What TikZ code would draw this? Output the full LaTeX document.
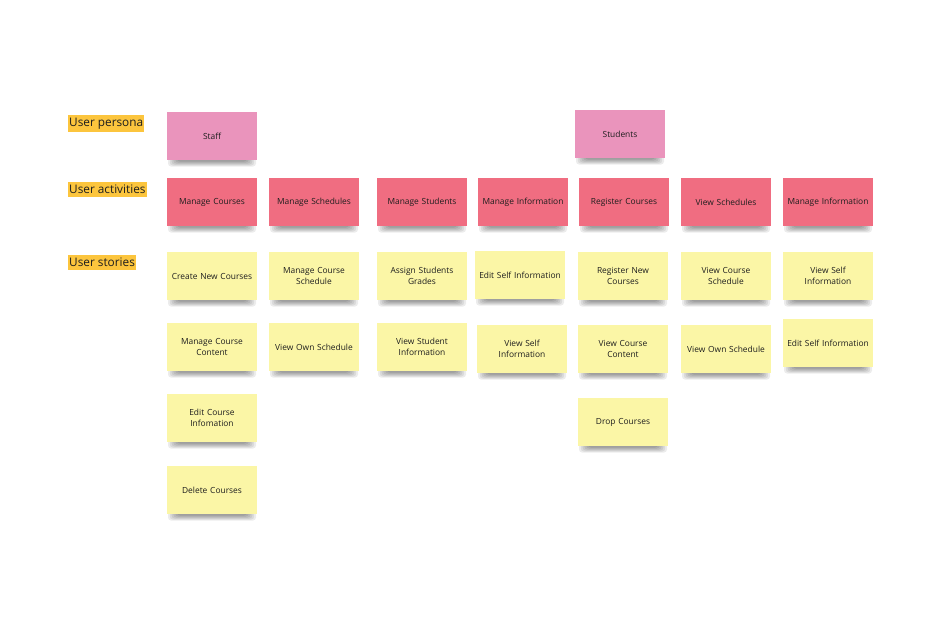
\documentclass[tikz,border=0pt]{standalone}
\usepackage{fontspec}
\setmainfont{Open Sans}
\definecolor{persona}{HTML}{EA94BC}
\definecolor{activity}{HTML}{F06D81}
\definecolor{story}{HTML}{FBF6A6}
\definecolor{tag}{HTML}{FCC53D}
\definecolor{ink}{HTML}{1E1E1E}
\tikzset{
  note/.style={minimum width=90pt, minimum height=48pt, inner sep=0pt, align=center,
    text width=86pt, font=\fontsize{8.4}{11.2}\selectfont, text=ink},
  shadowlayer/.style={fill=black, opacity=0.075, rounded corners=3pt},
  rowlabel/.style={fill=tag, inner xsep=1pt, inner ysep=3pt, anchor=north west,
    font=\fontsize{11.8}{13}\selectfont, text=ink}
}
\newcommand\sticky[5]{%
  \foreach \i in {0,...,5}{\fill[shadowlayer] (#2-44+1.8*\i,#3+8) rectangle (#2+44-1.8*\i,#3+30.5-\i);}
  \node[note, fill=#4] (#1) at (#2,#3) {#5};
}
\begin{document}
\begin{tikzpicture}[x=1pt,y=-1pt]
\useasboundingbox (0,0) rectangle (950,634);
\fill[white] (0,0) rectangle (950,634);
% row labels
\node[rowlabel] (lp) at (68,115) {User persona};
\node[rowlabel] (la) at (68,182) {User activities};
\node[rowlabel] (ls) at (68,255) {User stories};
% personas
\sticky{staff}{212}{136}{persona}{Staff}
\sticky{students}{620}{134}{persona}{Students}
% activities
\sticky{a1}{212}{202}{activity}{Manage Courses}
\sticky{a2}{314}{202}{activity}{Manage Schedules}
\sticky{a3}{422}{202}{activity}{Manage Students}
\sticky{a4}{523}{202}{activity}{Manage Information}
\sticky{a5}{624}{202}{activity}{Register Courses}
\sticky{a6}{726}{202}{activity}{View Schedules}
\sticky{a7}{828}{202}{activity}{Manage Information}
% stories row 1
\sticky{s11}{212}{276}{story}{Create New Courses}
\sticky{s21}{314}{276}{story}{Manage Course\\Schedule}
\sticky{s31}{422}{276}{story}{Assign Students\\Grades}
\sticky{s41}{520}{275}{story}{Edit Self Information}
\sticky{s51}{623}{276}{story}{Register New\\Courses}
\sticky{s61}{726}{276}{story}{View Course\\Schedule}
\sticky{s71}{828}{276}{story}{View Self\\Information}
% stories row 2
\sticky{s12}{212}{347}{story}{Manage Course\\Content}
\sticky{s22}{314}{347}{story}{View Own Schedule}
\sticky{s32}{422}{347}{story}{View Student\\Information}
\sticky{s42}{522}{349}{story}{View Self\\Information}
\sticky{s52}{623}{349}{story}{View Course\\Content}
\sticky{s62}{726}{349}{story}{View Own Schedule}
\sticky{s72}{828}{343}{story}{Edit Self Information}
% stories row 3/4
\sticky{s13}{212}{418}{story}{Edit Course\\Infomation}
\sticky{s53}{623}{422}{story}{Drop Courses}
\sticky{s14}{212}{490}{story}{Delete Courses}
\end{tikzpicture}
\end{document}
